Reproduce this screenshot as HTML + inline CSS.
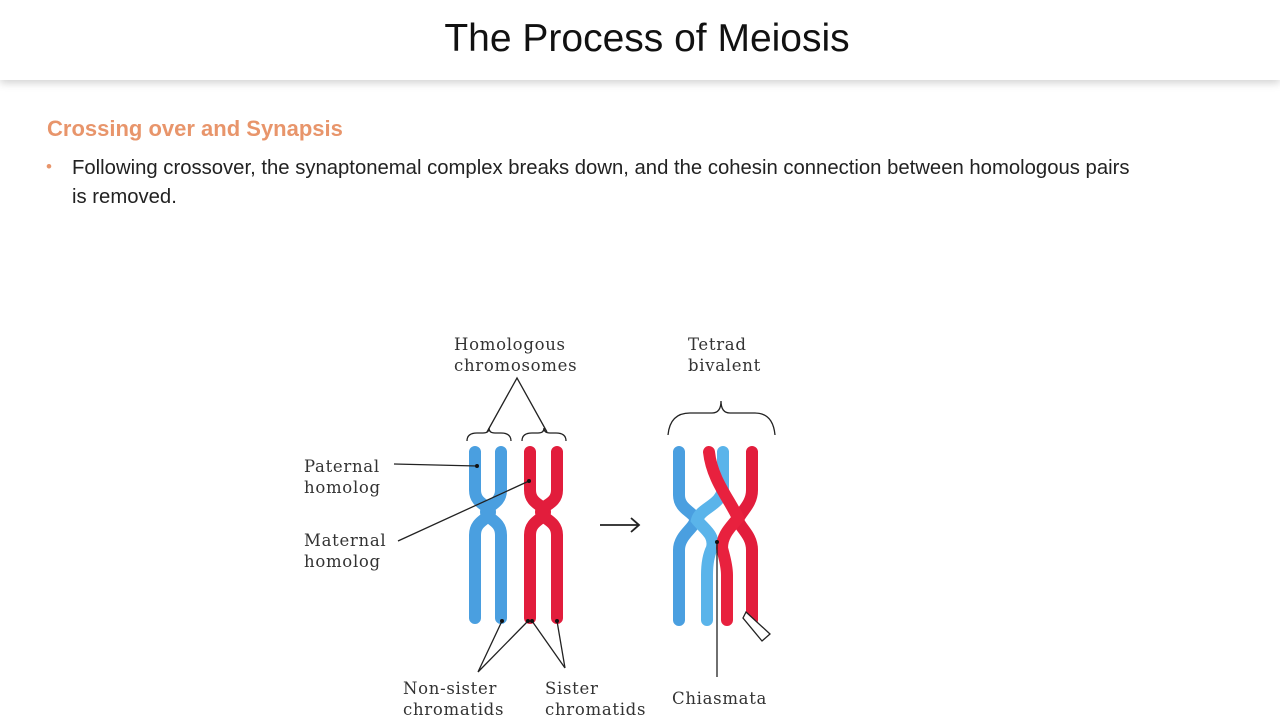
<!DOCTYPE html>
<html><head><meta charset="utf-8"><style>
body{margin:0;width:1280px;height:720px;background:#fff;position:relative;overflow:hidden;font-family:"Liberation Sans",sans-serif}
.hdr{position:absolute;left:0;top:0;width:1280px;height:80px;background:#fff;box-shadow:0 3px 8px rgba(0,0,0,0.18)}
.title{position:absolute;left:0;width:1294px;top:17px;text-align:center;font-size:39px;color:#111}
.h2{position:absolute;left:47px;top:116px;font-size:22px;font-weight:bold;color:#E8956B}
.b{position:absolute;left:72px;top:154px;font-size:20.3px;line-height:29px;color:#222;width:1105px}
.dot{position:absolute;left:46px;top:157px;color:#E8956B;font-size:17px}
svg{position:absolute;left:0;top:0}
svg text{font-family:"DejaVu Serif","Liberation Serif",serif;font-size:16.5px;fill:#333;letter-spacing:0.7px}
</style></head><body>
<div class="hdr"><div class="title">The Process of Meiosis</div></div>
<div class="h2">Crossing over and Synapsis</div>
<div class="dot">•</div>
<div class="b">Following crossover, the synaptonemal complex breaks down, and the cohesin connection between homologous pairs<br>is removed.</div>
<svg width="1280" height="720">
<g fill="none" stroke-linecap="round" stroke-width="12">
<path stroke="#4a9fe0" d="M475,452 V490 C475,505 490,505 490,512 C490,519 475,520 475,535 V618"/>
<path stroke="#4a9fe0" d="M501,452 V490 C501,505 486,505 486,512 C486,519 501,520 501,535 V618"/>
<path stroke="#e21d3c" d="M530,452 V490 C530,505 545,505 545,512 C545,519 530,520 530,535 V618"/>
<path stroke="#e21d3c" d="M557,452 V490 C557,505 541,505 541,512 C541,519 557,520 557,535 V618"/>
<path stroke="#4a9fe0" d="M679,452 V495 C679,510 695,512 695,520 C695,528 679,535 679,550 V620"/>
<path stroke="#5ab4ea" d="M723,452 V488 C722,505 700,508 697,520 C705,530 715,535 712,548 C708,556 707,565 707,575 V620"/>
<path stroke="#e21d3c" d="M752,452 V490 C752,505 740,512 738,520 C740,528 752,535 752,550 V620"/>
<path stroke="#e8213e" d="M709,452 C712,480 730,500 738,518 C730,528 722,535 722,548 C724,556 727,565 727,575 V620"/>
</g>
<g fill="none" stroke="#222" stroke-width="1.3">
<path d="M394,464 L477,466"/><path d="M398,541 L529,481"/>
<path d="M478,672 L502,621 M478,672 L528,621 M565,668 L532,621 M565,668 L557,621"/>
<path d="M717,677 V542"/>
<path d="M487,432 L517,378 L547,432"/>
<path d="M467,441 Q467,433 477,433 L483,433 Q489,433 489,428 Q489,433 495,433 L501,433 Q511,433 511,441"/>
<path d="M522,441 Q522,433 532,433 L538,433 Q544,433 544,428 Q544,433 550,433 L556,433 Q566,433 566,441"/>
<path d="M668,435 Q670,413 690,413 L712,413 Q721,413 721,401 Q721,413 730,413 L755,413 Q773,413 775,435"/>
<path d="M600,525 H639 M631,518 L639,525 L631,532" stroke-width="1.8"/>
<path d="M746,612 L770,634 L762,641 L743,618 Z" fill="#fff"/>
</g>
<g fill="#111"><circle cx="477" cy="466" r="2"/><circle cx="529" cy="481" r="2"/><circle cx="502" cy="621" r="2"/><circle cx="528" cy="621" r="2"/><circle cx="532" cy="621" r="2"/><circle cx="557" cy="621" r="2"/><circle cx="717" cy="542" r="2"/></g>
<text x="454" y="350">Homologous</text><text x="454" y="371">chromosomes</text>
<text x="688" y="350">Tetrad</text><text x="688" y="371">bivalent</text>
<text x="304" y="472">Paternal</text><text x="304" y="493">homolog</text>
<text x="304" y="546">Maternal</text><text x="304" y="567">homolog</text>
<text x="403" y="694">Non-sister</text><text x="403" y="715">chromatids</text>
<text x="545" y="694">Sister</text><text x="545" y="715">chromatids</text>
<text x="672" y="704">Chiasmata</text>
</svg>
</body></html>
